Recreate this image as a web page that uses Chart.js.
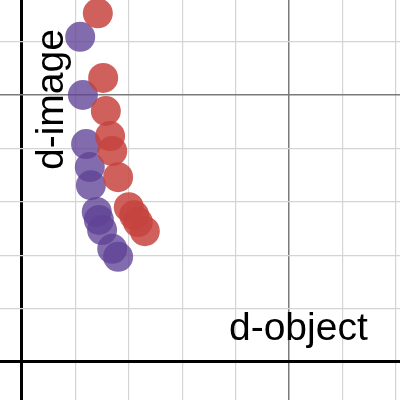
<!DOCTYPE html>
<html>
<head>
<meta charset="utf-8">
<script src="https://cdn.jsdelivr.net/npm/chart.js@4.4.1/dist/chart.umd.min.js"></script>
<style>
  html, body { margin: 0; padding: 0; background: #fff; }
  #wrap { width: 400px; height: 400px; }
</style>
</head>
<body>
<div id="wrap"><canvas id="graph"></canvas></div>
<script>
// readings, one grid square = 1 unit
const redX = [1.42, 1.52, 1.57, 1.65, 1.69, 1.80, 2.00, 2.10, 2.17, 2.30];
const redY = [6.53, 5.32, 4.70, 4.23, 3.95, 3.46, 2.90, 2.75, 2.62, 2.45];
const purpleX = [1.09, 1.14, 1.20, 1.27, 1.29, 1.40, 1.44, 1.50, 1.69, 1.80];
const purpleY = [6.09, 5.00, 4.08, 3.65, 3.31, 2.81, 2.66, 2.47, 2.12, 1.97];
const xLabel = 'd-object';
const yLabel = 'd-image';

function pts(xs, ys) {
    return xs.map((x, i) => ({ x: x, y: ys[i] }));
}

function gridColor(ctx) {
    const v = ctx.tick.value;
    if (v === 0) return '#000';
    if (v % 5 === 0) return '#7a7a7a';
    return '#d4d4d4';
}
function gridWidth(ctx) {
    const v = ctx.tick.value;
    if (v === 0) return 3;
    if (v % 5 === 0) return 1.5;
    return 1.2;
}
// one grid line per whole unit, the axis included
function integerTicks(scale) {
    const ticks = [];
    for (let v = Math.ceil(scale.min); v <= Math.floor(scale.max); v++) {
        ticks.push({ value: v });
    }
    scale.ticks = ticks;
}

// labels sit inside the plot, like the original
const axisLabels = {
    id: 'axisLabels',
    afterDraw(chart) {
        const c = chart.ctx;
        c.save();
        c.fillStyle = '#000';
        c.font = '39px "Liberation Sans", Arial, sans-serif';
        c.textBaseline = 'alphabetic';
        c.textAlign = 'left';
        c.fillText(xLabel, 229, 340);
        c.translate(63, 170);
        c.rotate(-Math.PI / 2);
        c.fillText(yLabel, 0, 0);
        c.restore();
    }
};

const graphCtx = document.getElementById('graph').getContext('2d');
const graph = new Chart(graphCtx, {
    type: 'scatter',
    data: {
        datasets: [{
            label: 'red',
            data: pts(redX, redY),
            backgroundColor: 'rgba(199, 68, 64, 0.85)',
            borderWidth: 0,
            pointRadius: 15,
            pointHoverRadius: 15
        }, {
            label: 'purple',
            data: pts(purpleX, purpleY),
            backgroundColor: 'rgba(96, 66, 150, 0.78)',
            borderWidth: 0,
            pointRadius: 15,
            pointHoverRadius: 15
        }]
    },
    options: {
        responsive: true,
        maintainAspectRatio: false,
        animation: false,
        layout: { padding: 0, autoPadding: false },
        plugins: {
            legend: { display: false },
            tooltip: { enabled: false }
        },
        scales: {
            x: {
                type: 'linear',
                min: -0.412,
                max: 7.079,
                afterBuildTicks: integerTicks,
                ticks: { display: false },
                border: { display: false },
                grid: { color: gridColor, lineWidth: gridWidth, drawTicks: false }
            },
            y: {
                type: 'linear',
                min: -0.712,
                max: 6.779,
                afterBuildTicks: integerTicks,
                ticks: { display: false },
                border: { display: false },
                grid: { color: gridColor, lineWidth: gridWidth, drawTicks: false }
            }
        }
    },
    plugins: [axisLabels]
});
</script>
</body>
</html>
